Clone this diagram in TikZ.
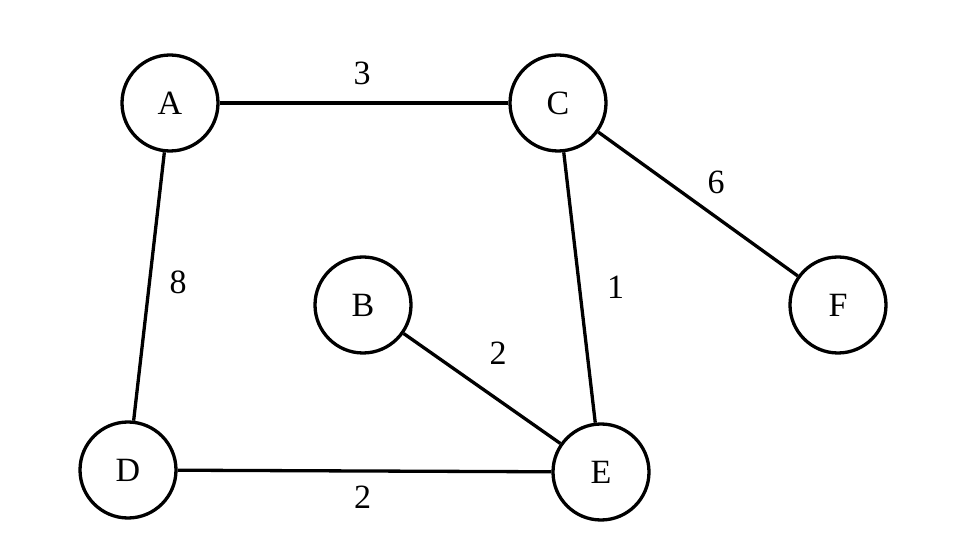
\documentclass[tikz,border=0pt]{standalone}
\usepackage{fontspec}
\setmainfont{Liberation Serif}
\begin{document}
\begin{tikzpicture}[x=1pt,y=1pt,
  vtx/.style={circle,draw=black,line width=3.3pt,minimum size=96pt,inner sep=0pt,font=\fontsize{34}{38}\selectfont},
  edge/.style={line width=3.3pt,draw=black},
  wt/.style={font=\fontsize{34}{38}\selectfont,inner sep=0pt}]
\useasboundingbox (0,0) rectangle (972,557);
\node[vtx] (A) at (170,454) {A};
\node[vtx] (C) at (558,454) {C};
\node[vtx] (B) at (363,252) {B};
\node[vtx] (F) at (838,252) {F};
\node[vtx] (D) at (128,87) {D};
\node[vtx] (E) at (601,85) {E};
\draw[edge] (A) -- node[wt,midway,xshift=-2,yshift=30] {3} (C);
\draw[edge] (C) -- node[wt,midway,xshift=18,yshift=22] {6} (F);
\draw[edge] (A) -- node[wt,midway,xshift=29,yshift=4] {8} (D);
\draw[edge] (C) -- node[wt,midway,xshift=36,yshift=0] {1} (E);
\draw[edge] (B) -- node[wt,midway,xshift=16,yshift=35] {2} (E);
\draw[edge] (D) -- node[wt,midway,xshift=-2,yshift=-26] {2} (E);
\end{tikzpicture}
\end{document}
